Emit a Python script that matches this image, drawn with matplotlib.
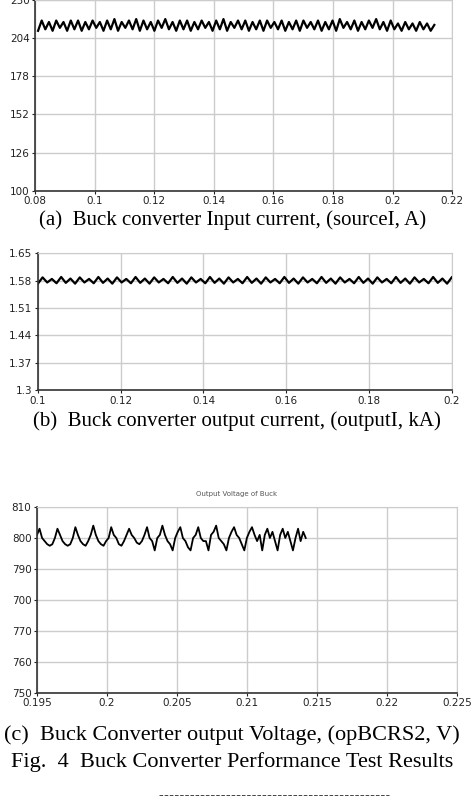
import matplotlib
matplotlib.use("Agg")
import matplotlib.pyplot as plt
import numpy as np

# (a) input current
a_x_start, a_x_end = 0.081, 0.214
a_vals = [209,216,210,215,209,216,211,215,209,216,210,216,209,215,210,216,211,215,209,216,
          210,217,209,215,211,216,210,217,209,216,210,215,209,216,211,217,210,215,209,216,
          210,216,209,215,210,216,211,215,209,216,210,217,209,215,211,216,210,216,209,215,
          210,216,209,216,211,215,210,216,209,215,210,216,209,216,211,215,210,216,209,215,
          210,216,209,217,211,215,210,216,209,215,210,216,211,217,210,215,209,216,210,214,
          209,215,210,214,209,215,210,214,209,213]
# (b) output current
b_x_start, b_x_end = 0.1, 0.2
b_vals = [1.572,1.588,1.575,1.584,1.573,1.589,1.574,1.585,1.572,1.588,1.575,1.584,1.573,1.589,
          1.574,1.585,1.572,1.588,1.575,1.584,1.573,1.589,1.574,1.585,1.572,1.588,1.575,1.584,
          1.573,1.589,1.574,1.585,1.572,1.588,1.575,1.584,1.573,1.589,1.574,1.585,1.572,1.588,
          1.575,1.584,1.573,1.589,1.574,1.585,1.572,1.588,1.575,1.584,1.573,1.589,1.574,1.585,
          1.572,1.588,1.575,1.584,1.573,1.589,1.574,1.585,1.572,1.588,1.575,1.584,1.573,1.589,
          1.574,1.585,1.572,1.588,1.575,1.584,1.573,1.589,1.574,1.585,1.572,1.588,1.575,1.584,
          1.573,1.589,1.574,1.585,1.572,1.588]
# (c) output voltage
c_x_start, c_x_end = 0.195, 0.2142
c_vals = [801,803,800,799,798,797.5,798,800,803,801,799,798,797.5,798,800,803.5,801,799,798,797.5,
          799,801,804,801,799,798,797.5,799,800,803.5,801,800,798,797.5,799,801,803,801,800,798.5,
          798,799,801,803.5,800,799,796,800,801,804,801,799,798,796,800,802,803.5,800,799,797,
          796,800,801,803.5,800,799,799,796,801,802,804,800,799,798,796,800,802,803.5,801,800,
          798,796,800,802,803.5,801,799,801,796,801,803,800,802,799,796,801,803,800,802,799,
          796,800,803,799,802,800]

serif = "Liberation Serif"
fig = plt.figure(figsize=(4.74, 8.01), dpi=100)

def setup(ax, xlim, ylim, xt, yt, xlabels, ylabels):
    ax.set_xlim(*xlim); ax.set_ylim(*ylim)
    ax.set_xticks(xt); ax.set_yticks(yt)
    ax.set_xticklabels(xlabels, fontsize=7.5, family="DejaVu Sans")
    ax.set_yticklabels(ylabels, fontsize=7.5, family="DejaVu Sans")
    ax.grid(True, color="#cccccc", linewidth=1)
    ax.tick_params(length=2, pad=2, colors="#222222")
    for s in ["top", "right"]:
        ax.spines[s].set_color("#cccccc")
    for s in ["left", "bottom"]:
        ax.spines[s].set_color("#333333"); ax.spines[s].set_linewidth(1.2)

ax1 = fig.add_axes([0.074, 0.762, 0.880, 0.238])
ax1.plot(np.linspace(a_x_start, a_x_end, len(a_vals)), a_vals, color="black", lw=1.6)
xt = [0.08,0.1,0.12,0.14,0.16,0.18,0.2,0.22]
yt = [100,126,152,178,204,230]
setup(ax1, (0.08, 0.22), (100, 230), xt, yt, ["0.08","0.1","0.12","0.14","0.16","0.18","0.2","0.22"], [str(v) for v in yt])
fig.text(0.49, 0.725, "(a)  Buck converter Input current, (sourceI, A)", ha="center", va="center", family=serif, fontsize=15)

ax2 = fig.add_axes([0.080, 0.513, 0.873, 0.171])
ax2.plot(np.linspace(b_x_start, b_x_end, len(b_vals)), b_vals, color="black", lw=1.6)
xt = [0.1,0.12,0.14,0.16,0.18,0.2]
yt = [1.3,1.37,1.44,1.51,1.58,1.65]
setup(ax2, (0.1, 0.2), (1.3, 1.65), xt, yt, ["0.1","0.12","0.14","0.16","0.18","0.2"], ["1.3","1.37","1.44","1.51","1.58","1.65"])
fig.text(0.5, 0.474, "(b)  Buck converter output current, (outputI, kA)", ha="center", va="center", family=serif, fontsize=15)

fig.text(0.5, 0.383, "Output Voltage of Buck", ha="center", va="center", fontsize=5, color="#555555")
ax3 = fig.add_axes([0.078, 0.135, 0.886, 0.232])
ax3.plot(np.linspace(c_x_start, c_x_end, len(c_vals)), c_vals, color="black", lw=1.3)
xt = [0.195,0.2,0.205,0.21,0.215,0.22,0.225]
yt = [750,760,770,780,790,800,810]
setup(ax3, (0.195, 0.225), (750, 810), xt, yt, ["0.195","0.2","0.205","0.21","0.215","0.22","0.225"], ["750","760","770","700","790","800","810"])
fig.text(0.49, 0.082, "(c)  Buck Converter output Voltage, (opBCRS2, V)", ha="center", va="center", family=serif, fontsize=16)
fig.text(0.49, 0.049, "Fig.  4  Buck Converter Performance Test Results", ha="center", va="center", family=serif, fontsize=16)

fig.add_artist(plt.Line2D([0.335, 0.82], [0.008, 0.008], color="#444444", lw=0.7, ls="--"))
fig.savefig("out.png", dpi=100)
